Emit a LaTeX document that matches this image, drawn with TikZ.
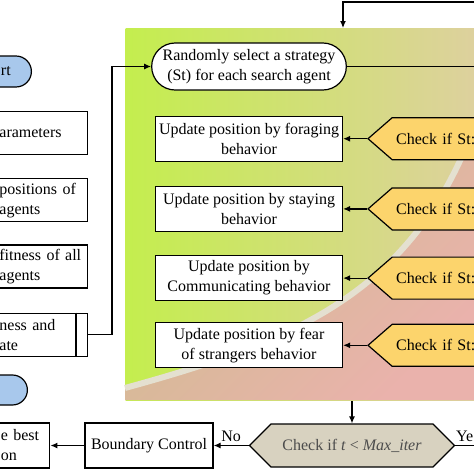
\documentclass[tikz,border=0pt]{standalone}
\usepackage{fontspec}
\setmainfont{Liberation Serif}
\usetikzlibrary{arrows.meta,positioning,shapes.misc,shapes.symbols}

\definecolor{limebg}{RGB}{196,238,78}
\definecolor{midbg}{RGB}{214,222,122}
\definecolor{tanbg}{RGB}{222,208,160}
\definecolor{lowtan}{RGB}{204,190,140}
\definecolor{midtan}{RGB}{218,196,156}
\definecolor{lowpink}{RGB}{234,178,172}
\definecolor{bandc}{RGB}{228,224,208}
\definecolor{startblue}{RGB}{168,200,236}
\definecolor{checkyel}{RGB}{252,212,108}
\definecolor{loopgray}{RGB}{216,210,192}

\begin{document}
\begin{tikzpicture}[
    x = 1pt, y = -1pt,
    > = {Latex[length=7pt,width=6pt]}, % arrow head style
    node distance = 23pt, % distance between nodes
    line width = 1.2pt,
    font = \fontsize{16}{20}\selectfont
    ]

    \tikzset{
    box/.style = {draw = black, fill = white, minimum width = 187pt, minimum height = 45pt, align = center, inner sep = 2pt},
    leftbox/.style = {draw = black, fill = white, minimum height = 43pt, text width = 84pt, inner xsep = 4pt, align = left},
    term/.style = {rounded rectangle, draw = black, fill = white, align = center},
    check/.style = {signal, signal to = west, signal pointer angle = 82, draw = black, fill = checkyel, minimum height = 42pt, text width = 110pt, inner xsep = 4pt, align = left}
    }

    \useasboundingbox (0,0) rectangle (474,474);
    \clip (0,0) rectangle (474,474);

    % background panel
    \node[anchor = north west, minimum width = 360pt, minimum height = 372pt, inner sep = 0pt,
      left color = limebg, middle color = midbg, right color = tanbg] (grp) at (125,28) {};
    \shade[top color = lowtan, middle color = midtan, bottom color = lowpink, shading angle = 45] (125,400) -- (125,388) .. controls (300,340) and (420,290) .. (480,110) -- (480,400) -- cycle;
    \draw[bandc, line width = 6pt] (125,388) .. controls (300,340) and (420,290) .. (480,110);

    % left column
    \node[term, fill = startblue, text width = 50pt, align = right, inner xsep = 20pt, minimum height = 31pt, anchor = east] (start) at (32,71.5) {rt};
    \node[leftbox, anchor = east] (lb1) at (88,133) {arameters};
    \node[leftbox] (lb2) [below = of lb1] {positions of\\agents};
    \node[leftbox] (lb3) [below = 22pt of lb2] {fitness of all\\agents};
    \node[leftbox] (lb4) [below = 24pt of lb3] {ness and\\ate};
    \draw ([xshift=-12pt]lb4.north east) -- ([xshift=-12pt]lb4.south east);
    \node[term, fill = startblue, minimum width = 70pt, minimum height = 30pt, anchor = east] (fin) at (28,390) {};

    % strategy part
    \node[term, minimum width = 189pt, minimum height = 47pt] (sel) at (249,66.5) {Randomly select a strategy\\(St) for each search agent};
    \node[box] (upd1) [below = 25pt of sel] {Update position by foraging\\behavior};
    \node[box] (upd2) [below = 24pt of upd1] {Update position by staying\\behavior};
    \node[box] (upd3) [below = of upd2] {Update position by\\Communicating behavior};
    \node[box] (upd4) [below = 21pt of upd3] {Update position by fear\\of strangers behavior};

    \node[check] (chk1) [right = 24pt of upd1] {Check if St:};
    \node[check] (chk2) [right = 24pt of upd2] {Check if St:};
    \node[check] (chk3) [right = 24pt of upd3] {Check if St:};
    \node[check] (chk4) [right = 24pt of upd4] {Check if St:};

    % bottom row
    \node[signal, signal to = west and east, signal pointer angle = 90, draw = black, fill = loopgray,
      text = black!70, minimum width = 205pt, minimum height = 43pt] (chkt) at (352,445.5) {Check if \textit{t} < \textit{Max\_iter}};
    \node[box, minimum width = 128pt] (bc) [left = 35pt of chkt] {Boundary Control};
    \node[leftbox, text width = 45pt, minimum height = 45pt] (best) [left = 34pt of bc] {e best\\on};

    \coordinate (rim) at (474,2);
    \coordinate (topin) at (343,28);

    \draw[->] (lb4.east) -- ++(24pt,0) |- (sel.west);
    \draw[->] (rim) -| (topin);
    \draw (sel.east) -- (sel.east -| rim);
    \draw[->] (chk1.west) -- (upd1.east);
    \draw[->] (chk2.west) -- (upd2.east);
    \draw[->] (chk3.west) -- (upd3.east);
    \draw[->] (chk4.west) -- (upd4.east);
    \draw[->] (chkt.north |- grp.south) -- (chkt.north);
    \draw[->] (chkt.west) -- (bc.east) node[midway, above] {No};
    \draw[->] (bc.west) -- (best.east);
    \draw (chkt.east) -- (chkt.east -| rim) node[midway, above] {Ye};
\end{tikzpicture}
\end{document}
